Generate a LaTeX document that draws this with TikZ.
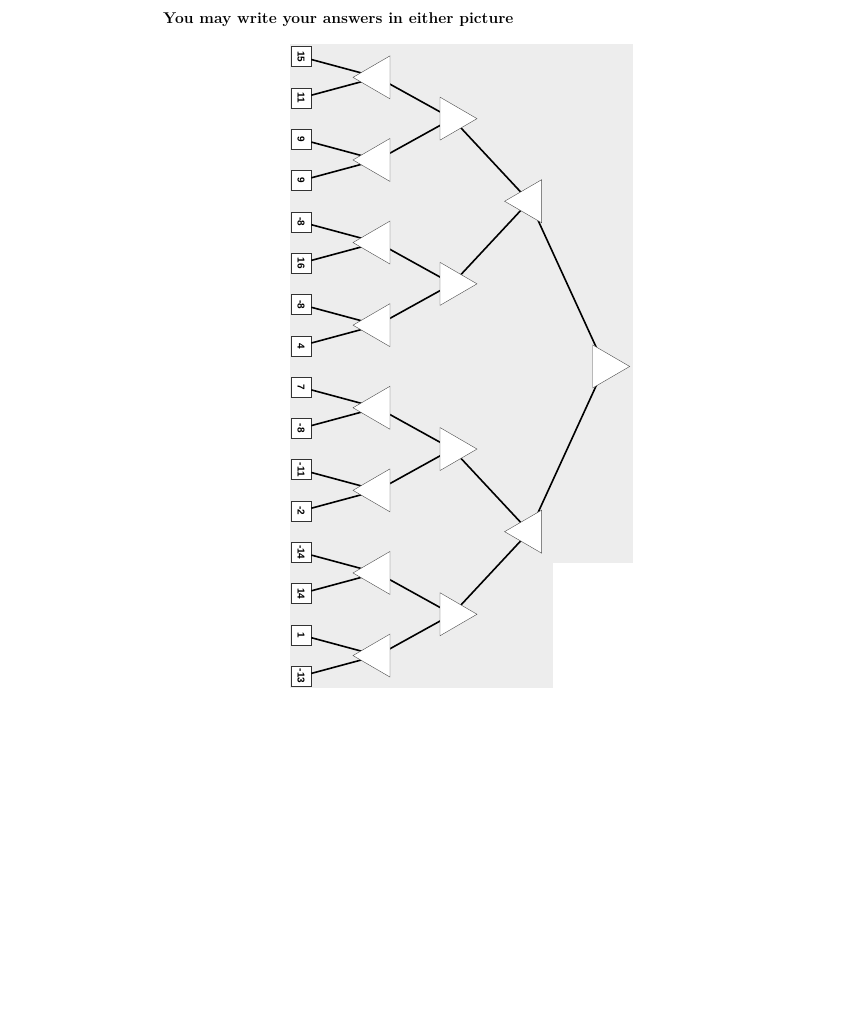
\documentclass[tikz,border=0pt]{standalone}
\usepackage{fontspec}
\setsansfont{Liberation Sans}
\newcommand\ltri[1]{\draw[tri] (#1) ++(-24.7,0) -- ++(37,-21.5) -- ++(0,43) -- cycle;}
\newcommand\rtri[1]{\draw[tri] (#1) ++(24.7,0) -- ++(-37,-21.5) -- ++(0,43) -- cycle;}
\begin{document}
\begin{tikzpicture}[x=1pt,y=-1pt,
  leaf/.style={draw=black!80, fill=white, line width=0.6pt, minimum width=20pt, minimum height=20pt, inner sep=0pt, font=\sffamily\bfseries\fontsize{10}{10}\selectfont, rotate=-90},
  edge/.style={line width=1.6pt, black},
  tri/.style={fill=white, draw=black!70, line width=0.4pt}]
\useasboundingbox (0,0) rectangle (863,1024);
\fill[black!7] (290,44) rectangle (633,563);
\fill[black!7] (290,563) rectangle (553,688);
\node[anchor=base west, inner sep=0pt, font=\bfseries\fontsize{15.6}{18}\selectfont] (title) at (163,24) {You may write your answers in either picture};
\foreach \v [count=\i from 0] in {15,11,9,9,-8,16,-8,4,7,-8,-11,-2,-14,14,1,-13}
  \node[leaf] (l\i) at (301,56.7+41.3*\i) {\v};
\foreach \k in {0,...,7} \coordinate (a\k) at (377.7,77.35+82.6*\k);
\foreach \k in {0,...,3} \coordinate (b\k) at (452.3,118.65+165.2*\k);
\foreach \k in {0,1} \coordinate (c\k) at (529.3,201.25+330.4*\k);
\coordinate (r) at (605,366.45);
\foreach \k in {0,...,7}{
  \pgfmathtruncatemacro\p{2*\k}\pgfmathtruncatemacro\q{2*\k+1}
  \draw[edge] (l\p) -- (a\k);
  \draw[edge] (l\q) -- (a\k);
}
\foreach \k in {0,...,3}{
  \pgfmathtruncatemacro\p{2*\k}\pgfmathtruncatemacro\q{2*\k+1}
  \draw[edge] (a\p) -- (b\k);
  \draw[edge] (a\q) -- (b\k);
}
\draw[edge] (b0) -- (c0); \draw[edge] (b1) -- (c0);
\draw[edge] (b2) -- (c1); \draw[edge] (b3) -- (c1);
\draw[edge] (c0) -- (r); \draw[edge] (c1) -- (r);
\foreach \k in {0,...,7}{\ltri{a\k}}
\foreach \k in {0,...,3}{\rtri{b\k}}
\ltri{c0}\ltri{c1}
\rtri{r}
\end{tikzpicture}
\end{document}
